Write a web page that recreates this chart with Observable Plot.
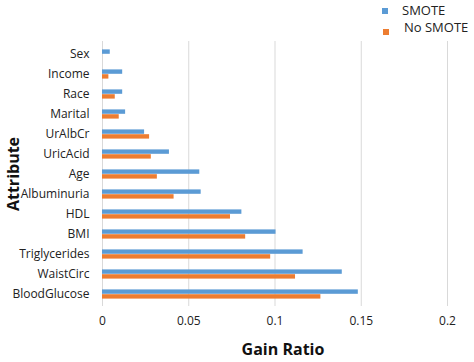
<!DOCTYPE html>
<html><head><meta charset="utf-8">
<script src="https://cdn.jsdelivr.net/npm/d3@7"></script>
<script src="https://cdn.jsdelivr.net/npm/@observablehq/plot@0.6"></script>
<style>
body{margin:0;background:#fff;font-family:"Open Sans",sans-serif}
#wrap{position:relative;width:474px;height:362px}
.leg{position:absolute;font-size:13px;color:#222;line-height:16px;white-space:nowrap}
.sw{position:absolute;width:6px;height:6px}
g[aria-label="y-axis label"] text{font-weight:bold;font-size:16px;fill:#111}
#xlab{position:absolute;left:203px;width:160px;top:338px;line-height:22px;text-align:center;font-weight:bold;font-size:16px;color:#111}
</style></head><body><div id="wrap"></div>
<script>
const attributes = ["Sex","Income","Race","Marital","UrAlbCr","UricAcid","Age","Albuminuria","HDL","BMI","Triglycerides","WaistCirc","BloodGlucose"];
const smote   = [0.0045,0.0117,0.0117,0.0134,0.0244,0.0388,0.0564,0.0572,0.0808,0.1006,0.1163,0.139,0.1483];
const noSmote = [0,0.0037,0.0074,0.0097,0.0273,0.0283,0.0318,0.0415,0.0742,0.083,0.0975,0.1119,0.1266];
const seriesNames = ["SMOTE","No SMOTE"];
const colors = ["#5B9BD5","#ED7D31"];
const xTicks = [0,0.05,0.1,0.15,0.2];
const xTitle = "Gain Ratio";
const yTitle = "Attribute";

const data = [];
attributes.forEach((a,i)=>{
  data.push({attribute:a, series:seriesNames[0], value:smote[i]});
  data.push({attribute:a, series:seriesNames[1], value:noSmote[i]});
});

const plot = Plot.plot({
  width: 474, height: 362,
  marginTop: 41, marginBottom: 56, marginLeft: 102, marginRight: 27,
  style: {fontFamily: "Open Sans", fontSize: "12px", color: "#222", background: "#fff"},
  x: {domain: [0, 0.2]},
  y: {domain: attributes, padding: 0},
  marks: [
    Plot.gridX(xTicks, {stroke: "#d9d9d9", strokeOpacity: 1}),
    Plot.barX(data.filter(d=>d.series===seriesNames[0]), {x: "value", y: "attribute", fill: colors[0], insetTop: 5.4, insetBottom: 10.2}),
    Plot.barX(data.filter(d=>d.series===seriesNames[1]), {x: "value", y: "attribute", fill: colors[1], insetTop: 10.2, insetBottom: 5.4}),
    Plot.axisX(xTicks, {tickSize: 0, tickPadding: 10, label: null, tickFormat: d => String(d)}),
    Plot.axisY({tickSize: 0, tickPadding: 13, label: yTitle, labelArrow: "none", labelAnchor: "center", labelOffset: 95})
  ]
});
const wrap = document.getElementById("wrap");
wrap.appendChild(plot);
const xl = document.createElement("div");
xl.id = "xlab"; xl.textContent = xTitle; wrap.appendChild(xl);
const legPos = [{sx:382,sy:8,tx:402,ty:2},{sx:383,sy:29,tx:404,ty:19}];
seriesNames.forEach((s,i)=>{
  const sw = document.createElement("div");
  sw.className="sw"; sw.style.left=legPos[i].sx+"px"; sw.style.top=legPos[i].sy+"px"; sw.style.background=colors[i];
  const t = document.createElement("div");
  t.className="leg"; t.style.left=legPos[i].tx+"px"; t.style.top=legPos[i].ty+"px"; t.textContent=s;
  wrap.appendChild(sw); wrap.appendChild(t);
});
</script></body></html>
